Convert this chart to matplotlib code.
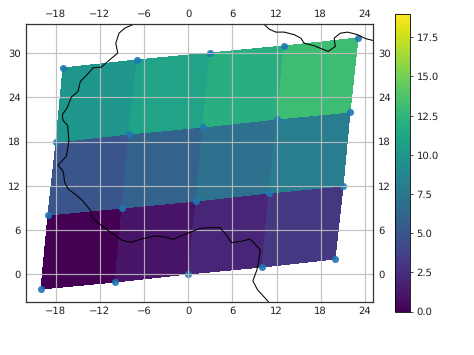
import numpy as np
import matplotlib
matplotlib.use("Agg")
import matplotlib.pyplot as plt

plt.rcParams["text.hinting"] = "no_hinting"
plt.rcParams["text.hinting_factor"] = 1

# Grid corners (lon, lat)
lons = [[-20, -10, 0, 10, 20],
        [-19, -9, 1, 11, 21],
        [-18, -8, 2, 12, 22],
        [-17, -7, 3, 13, 23]]
lats = [[-2, -1, 0, 1, 2],
        [8, 9, 10, 11, 12],
        [18, 19, 20, 21, 22],
        [28, 29, 30, 31, 32]]

# Cell values
values = [[0, 1, 2, 3],
          [5, 6, 7, 8],
          [10, 11, 12, 13]]
vmin = 0
vmax = 19

# Coastline
west_lon = [-7.26, -8.62, -9.39, -9.84, -9.57, -10.66, -11.79, -12.93, -13.74, -14.65, -14.97,
            -15.87, -16.46, -17.1, -17.0, -16.37, -16.2, -16.55, -17.69, -17.0, -16.9, -16.8,
            -16.3, -15.2, -14.3, -13.3, -13.0, -12.0, -10.66, -9.07, -7.85, -6.35, -4.54, -3.17,
            -2.04, -0.9, 0.23, 1.59, 2.95, 4.3, 5.0, 5.9, 7.38, 8.38, 8.97, 9.78, 9.64, 9.33,
            8.78, 9.42, 10.87]
west_lat = [33.97, 33.39, 32.71, 31.35, 30.0, 29.1, 28.1, 28.0, 27.07, 26.16, 24.8,
            24.04, 22.55, 21.65, 20.88, 20.16, 18.04, 16.0, 14.8, 14.0, 13.44, 12.54,
            11.55, 10.74, 9.92, 8.7, 7.58, 6.77, 5.77, 4.65, 4.33, 4.78, 5.19, 5.05,
            4.74, 5.23, 5.68, 6.22, 6.31, 6.31, 5.55, 4.28, 4.5, 4.78, 4.2, 3.3, 2.17, 0.59,
            -0.9, -2.12, -3.7]
north_lon = [10.23, 11.0, 11.9, 13.04, 14.4, 15.3, 15.76, 17.1, 19.0, 19.97, 19.83, 20.65,
             21.65, 23.0, 24.14, 25.18]
north_lat = [33.97, 33.25, 32.85, 32.85, 32.5, 32.03, 31.35, 31.0, 30.23, 30.9, 32.03, 32.7,
             32.85, 32.5, 31.95, 31.7]

xticks = [-18, -12, -6, 0, 6, 12, 18, 24]
yticks = [0, 6, 12, 18, 24, 30]
cbar_ticks = [0.0, 2.5, 5.0, 7.5, 10.0, 12.5, 15.0, 17.5]

W, H = 474, 355
fig = plt.figure(figsize=(W / 100, H / 100), dpi=100)
ax = fig.add_axes([25.5 / W, 1 - 301.5 / H, 347.5 / W, 277.5 / H])

mesh = ax.pcolormesh(lons, lats, values, cmap="viridis", vmin=vmin, vmax=vmax,
                     shading="flat", zorder=1)
ax.scatter(lons, lats, s=26, color="#1f77b4", alpha=0.9, linewidths=0, zorder=2, clip_on=False)
ax.plot(west_lon, west_lat, color="black", lw=0.75, zorder=3)
ax.plot(north_lon, north_lat, color="black", lw=0.75, zorder=3)

ax.set_xlim(-22.1, 25.1)
ax.set_ylim(-3.7, 33.95)
ax.set_xticks(xticks)
ax.set_yticks(yticks)
ax.grid(True, color="#bdbdbd", lw=0.85, alpha=0.9, zorder=4)
ax.set_axisbelow(False)
ax.tick_params(length=0, labelsize=6.9, pad=3.5, top=True, right=True,
               labeltop=True, labelright=True, colors="#222222")
for s in ax.spines.values():
    s.set_linewidth(0.9)
    s.set_color("#333333")
    s.set_zorder(5)

cax = fig.add_axes([395 / W, 1 - 311.5 / H, 14.7 / W, 297.8 / H])
cb = fig.colorbar(plt.cm.ScalarMappable(norm=plt.Normalize(vmin, vmax), cmap="viridis"), cax=cax)
cb.set_ticks(cbar_ticks)
cb.ax.tick_params(labelsize=6.9, length=2.5, width=0.6, pad=2.5, colors="#222222")
cb.outline.set_linewidth(0.6)

plt.savefig("out.png", dpi=100)
